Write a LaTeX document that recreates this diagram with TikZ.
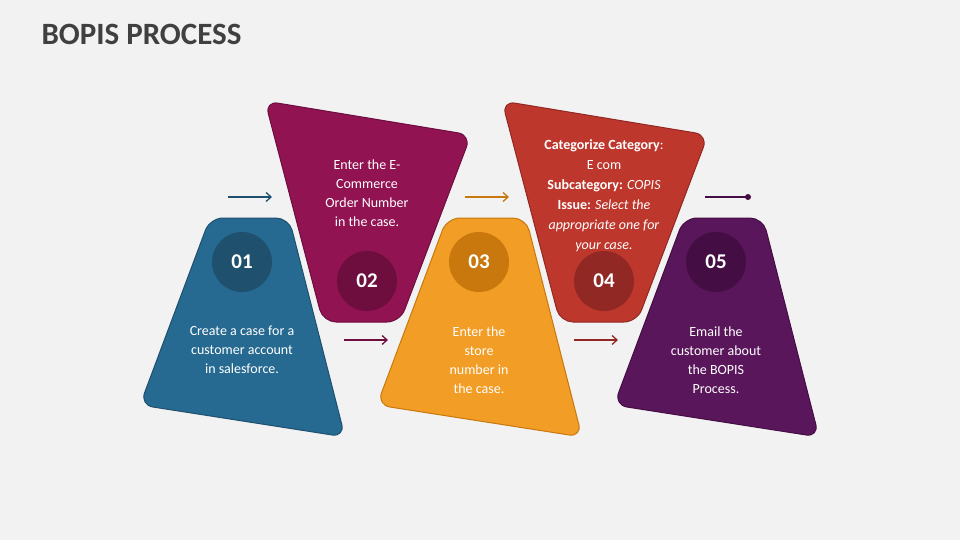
\documentclass[tikz,border=0pt]{standalone}
\usepackage{fontspec}
\setmainfont{Carlito}
\usetikzlibrary{arrows.meta}
\definecolor{bg}{RGB}{242,242,242}
\definecolor{cA}{RGB}{38,106,145}\definecolor{dA}{RGB}{31,80,110}
\definecolor{cB}{RGB}{145,19,82}\definecolor{dB}{RGB}{110,14,62}
\definecolor{cC}{RGB}{242,157,38}\definecolor{dC}{RGB}{200,120,12}
\definecolor{cD}{RGB}{190,55,45}\definecolor{dD}{RGB}{145,40,35}
\definecolor{cE}{RGB}{90,22,90}\definecolor{dE}{RGB}{68,14,68}
\definecolor{title}{RGB}{64,64,64}
\begin{document}
\begin{tikzpicture}[x=1pt,y=-1pt,
  blk/.style={rounded corners=13pt,line width=1pt},
  num/.style={circle,minimum size=60pt,inner sep=0pt,text=white,font=\bfseries\fontsize{21}{21}\selectfont},
  txt/.style={text=white,align=center,font=\fontsize{14}{19}\selectfont},
  arr/.style={-{Straight Barb[length=5pt,width=9pt]},line width=1.3pt}]
\fill[bg] (0,0) rectangle (960,540);
\useasboundingbox (0,0) rectangle (960,540);
\node[anchor=west,text=title,font=\bfseries\fontsize{31}{31}\selectfont] (t) at (38,34) {BOPIS PROCESS};
% shapes
\foreach \dx/\c/\d in {0/cA/dA,237/cC/dC,474/cE/dE}{
  \draw[blk,fill=\c,draw=\d] (210+\dx,218) -- (289+\dx,218) -- (345+\dx,437) -- (140+\dx,405) -- cycle;}
\foreach \dx/\c/\d in {0/cB/dB,237/cD/dD}{
  \draw[blk,fill=\c,draw=\d] (265+\dx,101) -- (471+\dx,135) -- (400+\dx,322) -- (323+\dx,322) -- cycle;}
\node[num,fill=dA] (n1) at (242,262) {01};
\node[num,fill=dB] (n2) at (367,281) {02};
\node[num,fill=dC] (n3) at (479,262) {03};
\node[num,fill=dD] (n4) at (604,281) {04};
\node[num,fill=dE] (n5) at (716,262) {05};
\node[txt] (t1) at (242,350) {Create a case for a\\customer account\\in salesforce.};
\node[txt] (t2) at (367,193) {Enter the E-\\Commerce\\Order Number\\in the case.};
\node[txt] (t3) at (479,360) {Enter the\\store\\number in\\the case.};
\node[txt,font=\fontsize{14}{20}\selectfont] (t4) at (604,196) {\textbf{Categorize Category}:\\E com\\\textbf{Subcategory:} \textit{COPIS}\\\textbf{Issue:} \textit{Select the}\\\textit{appropriate one for}\\\textit{your case.}};
\node[txt] (t5) at (716,360) {Email the\\customer about\\the BOPIS\\Process.};
\coordinate (a1) at (228,197); \coordinate (b1) at (272,197);
\coordinate (a2) at (344,340); \coordinate (b2) at (388,340);
\coordinate (a3) at (465,197); \coordinate (b3) at (509,197);
\coordinate (a4) at (574,340); \coordinate (b4) at (618,340);
\coordinate (a5) at (705,197); \coordinate (b5) at (748,197);
\draw[arr,draw=dA] (a1) -- (b1);
\draw[arr,draw=dB] (a2) -- (b2);
\draw[arr,draw=dC] (a3) -- (b3);
\draw[arr,draw=dD] (a4) -- (b4);
\draw[line width=1.3pt,draw=dE] (a5) -- (b5);
\fill[dE] (b5) circle (3pt);
\end{tikzpicture}
\end{document}
